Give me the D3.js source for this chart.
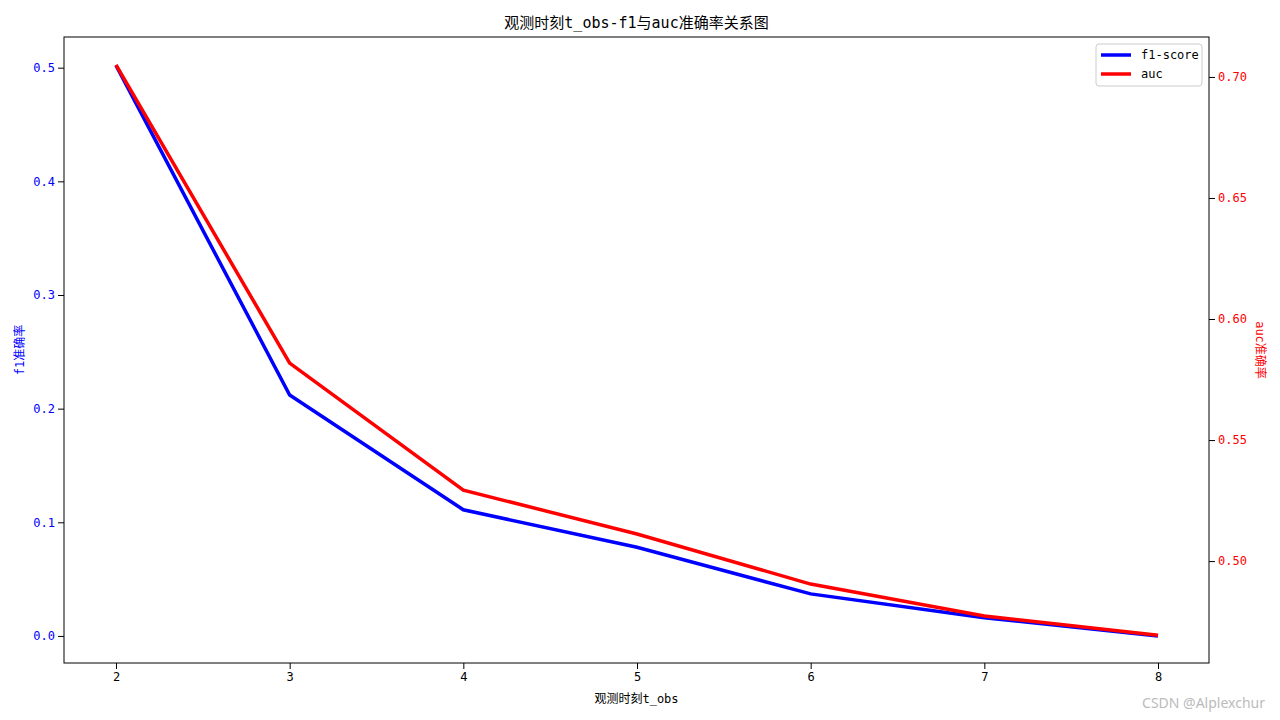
<!DOCTYPE html>
<html><head><meta charset="utf-8">
<script src="https://cdn.jsdelivr.net/npm/d3@7"></script>
<style>body{margin:0;background:#fff}text{font-family:"DejaVu Sans Mono","Noto Sans CJK SC",sans-serif}</style>
</head><body><svg id="c" width="1280" height="720"></svg>
<script>
const xs=[2,3,4,5,6,7,8];
const f1=[0.502,0.212,0.111,0.078,0.037,0.016,0.0];
const auc=[0.705,0.5818,0.5293,0.5112,0.4905,0.4773,0.4694];
const leftTicks=[0.0,0.1,0.2,0.3,0.4,0.5];
const rightTicks=[0.50,0.55,0.60,0.65,0.70];
const svg=d3.select("#c");
const L=64,R=1209,T=37,B=663;
const x=d3.scaleLinear().domain([2,8]).range([116,1158]);
const yl=d3.scaleLinear().domain([-0.0238,0.527]).range([B,T]);
const yr=d3.scaleLinear().domain([0.4579,0.7165]).range([B,T]);
const fs="12px";
svg.append("g").attr("transform",`translate(0,${B})`).call(d3.axisBottom(x).tickValues(xs).tickFormat(d3.format("d")).tickSizeOuter(0)).call(g=>{g.selectAll("text").style("font-size",fs).attr("fill","#000");g.select(".domain").remove();});
svg.append("g").attr("transform",`translate(${L},0)`).call(d3.axisLeft(yl).tickValues(leftTicks).tickFormat(d3.format(".1f")).tickSizeOuter(0)).call(g=>{g.selectAll("text").style("font-size",fs).attr("fill","blue");g.select(".domain").remove();});
svg.append("g").attr("transform",`translate(${R},0)`).call(d3.axisRight(yr).tickValues(rightTicks).tickFormat(d3.format(".2f")).tickSizeOuter(0)).call(g=>{g.selectAll("text").style("font-size",fs).attr("fill","red");g.select(".domain").remove();});
svg.append("rect").attr("x",L).attr("y",T).attr("width",R-L).attr("height",B-T).attr("fill","none").attr("stroke","#000");
const line=(ys,s)=>d3.line().x((d,i)=>x(xs[i])).y(d=>s(d))(ys);
svg.append("path").attr("d",line(f1,yl)).attr("fill","none").attr("stroke","blue").attr("stroke-width",3.5);
svg.append("path").attr("d",line(auc,yr)).attr("fill","none").attr("stroke","red").attr("stroke-width",3.5);
svg.append("text").attr("x",(L+R)/2).attr("y",28).attr("text-anchor","middle").style("font-size","15px").text("观测时刻t_obs-f1与auc准确率关系图");
svg.append("text").attr("x",(L+R)/2).attr("y",703).attr("text-anchor","middle").style("font-size","12px").text("观测时刻t_obs");
svg.append("text").attr("transform","translate(24,350) rotate(-90)").attr("text-anchor","middle").style("font-size","12px").attr("fill","blue").text("f1准确率");
svg.append("text").attr("transform","translate(1256,350) rotate(90)").attr("text-anchor","middle").style("font-size","12px").attr("fill","red").text("auc准确率");
const lg=svg.append("g");
lg.append("rect").attr("x",1096).attr("y",44).attr("width",106).attr("height",42).attr("rx",3).attr("fill","#fff").attr("stroke","#ccc");
[["f1-score","blue"],["auc","red"]].forEach((d,i)=>{
 lg.append("line").attr("x1",1101).attr("x2",1131).attr("y1",55+i*19).attr("y2",55+i*19).attr("stroke",d[1]).attr("stroke-width",3.5);
 lg.append("text").attr("x",1141).attr("y",59+i*19).style("font-size","12px").text(d[0]);
});
svg.append("text").attr("x",1265).attr("y",708).attr("text-anchor","end").style("font-size","14px").attr("fill","#bbb").style("font-family","Noto Sans").text("CSDN @Alplexchur");
</script></body></html>
